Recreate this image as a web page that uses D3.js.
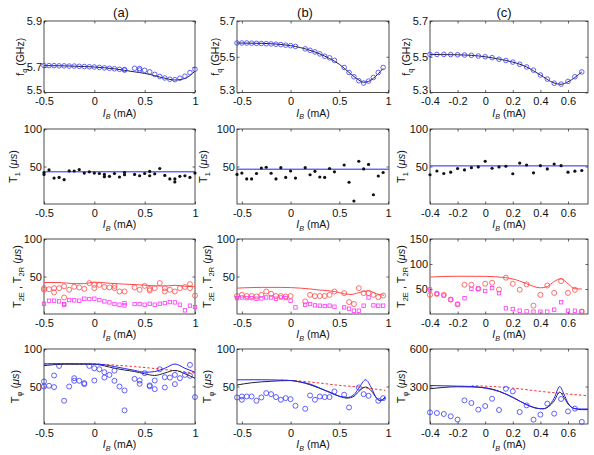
<!DOCTYPE html>
<html><head><meta charset="utf-8">
<script src="https://cdn.jsdelivr.net/npm/d3@7"></script>
<style>
body{margin:0;background:#fff}
svg{display:block}
text{font-family:"Liberation Sans",Arial,Helvetica,sans-serif;fill:#111}
</style>
</head><body>
<svg id="c" width="594" height="455"></svg>
<script>
// ---------- tick labels ----------
const xTicksAB = [-0.5, 0, 0.5, 1];
const xTicksC = [-0.4, -0.2, 0, 0.2, 0.4, 0.6];
const fqTicksA = [5.5, 5.7, 5.9];
const fqTicksBC = [5.3, 5.5, 5.7];
const tTicks = [50, 100];
const t2TicksC = [50, 100, 150];
const tphiTicksC = [300, 600];
const panelTitles = ["(a)", "(b)", "(c)"];

// ---------- row 1: qubit frequency f_q (GHz) ----------
const fqA = [[-0.5,5.706],[-0.45,5.706],[-0.4,5.706],[-0.35,5.705],[-0.3,5.705],[-0.25,5.704],[-0.2,5.704],[-0.15,5.703],[-0.1,5.702],[-0.05,5.701],[0,5.700],[0.05,5.697],[0.1,5.693],[0.15,5.690],[0.2,5.686],[0.25,5.682],[0.3,5.680],[0.3,5.676],[0.4,5.690],[0.45,5.688],[0.45,5.676],[0.5,5.674],[0.55,5.662],[0.6,5.642],[0.65,5.626],[0.7,5.614],[0.75,5.604],[0.8,5.601],[0.85,5.612],[0.9,5.628],[0.95,5.656],[1.0,5.682]];
const fqAFit = [[-0.5,5.706],[-0.3,5.705],[-0.1,5.702],[0,5.700],[0.1,5.694],[0.2,5.686],[0.3,5.674],[0.4,5.662],[0.5,5.650],[0.6,5.632],[0.7,5.612],[0.8,5.598],[0.9,5.610],[1.0,5.668]];
const fqB = [[-0.55,5.577],[-0.5,5.577],[-0.45,5.577],[-0.4,5.576],[-0.35,5.575],[-0.3,5.574],[-0.25,5.573],[-0.2,5.572],[-0.15,5.570],[-0.1,5.568],[-0.05,5.565],[0,5.562],[0.05,5.558],[0.15,5.544],[0.2,5.536],[0.25,5.527],[0.3,5.516],[0.35,5.503],[0.4,5.494],[0.45,5.480],[0.55,5.440],[0.6,5.412],[0.65,5.388],[0.7,5.366],[0.75,5.353],[0.8,5.364],[0.85,5.384],[0.9,5.412],[0.95,5.440]];
const fqBFit = [[-0.55,5.577],[-0.3,5.575],[0,5.562],[0.2,5.536],[0.4,5.490],[0.5,5.458],[0.6,5.412],[0.7,5.370],[0.75,5.357],[0.8,5.362],[0.9,5.405],[0.95,5.435]];
const fqC = [[-0.4,5.513],[-0.35,5.513],[-0.3,5.513],[-0.25,5.512],[-0.2,5.511],[-0.15,5.510],[-0.1,5.508],[-0.05,5.504],[0,5.500],[0.05,5.495],[0.1,5.486],[0.15,5.479],[0.2,5.470],[0.25,5.458],[0.3,5.443],[0.35,5.425],[0.4,5.398],[0.45,5.375],[0.5,5.352],[0.55,5.347],[0.6,5.362],[0.65,5.388],[0.7,5.415]];
const fqCFit = [[-0.4,5.513],[-0.2,5.511],[0,5.500],[0.1,5.487],[0.2,5.470],[0.3,5.443],[0.4,5.398],[0.5,5.353],[0.55,5.346],[0.6,5.360],[0.7,5.415]];

// ---------- row 2: T1 (us) ----------
const t1A = [[-0.5,42],[-0.5,39.5],[-0.45,45.5],[-0.4,34.6],[-0.35,35.5],[-0.3,32.5],[-0.25,44.1],[-0.2,44],[-0.15,45.9],[-0.1,41.2],[-0.05,42.9],[0,41.2],[0.05,40.7],[0.1,39.5],[0.1,36.5],[0.15,36.9],[0.2,40.7],[0.25,36],[0.3,42],[0.3,39],[0.4,39.5],[0.45,37.7],[0.5,40.7],[0.55,43.4],[0.55,37.7],[0.6,40.2],[0.65,47.3],[0.7,38.1],[0.75,33.4],[0.8,33.4],[0.8,29.5],[0.85,36.9],[0.9,37.7],[0.95,35.5],[1.0,41.2]];
const t1AFit = 42.9;
const t1B = [[-0.55,39.5],[-0.5,41.2],[-0.45,33.4],[-0.4,33.4],[-0.35,40.7],[-0.3,48],[-0.25,49],[-0.2,41],[-0.15,33.4],[-0.1,48.5],[-0.05,35.5],[0,44],[0.05,34.6],[0.15,48.5],[0.2,39],[0.25,43.6],[0.3,36],[0.35,35.5],[0.4,47.3],[0.45,42.9],[0.55,52],[0.6,29],[0.65,4],[0.7,57],[0.75,46.8],[0.8,52.8],[0.85,12.3],[0.9,37.3],[0.95,42]];
const t1BFit = 46.4;
const t1C = [[-0.4,39],[-0.35,44],[-0.3,40.7],[-0.25,42.5],[-0.2,47.3],[-0.15,45.5],[-0.1,48.5],[-0.05,49.4],[0,57],[0.05,47.7],[0.1,49.4],[0.15,50.3],[0.2,40.3],[0.25,54.6],[0.3,52],[0.35,41.6],[0.4,51.1],[0.45,46.8],[0.5,53.3],[0.55,51.1],[0.6,42.5],[0.65,43.8],[0.7,44.7]];
const t1CFit = 50.8;

// ---------- row 3: T2E (circles, fit line) and T2R (squares) ----------
const t2eA = [[-0.5,32.3],[-0.5,34.5],[-0.45,33],[-0.4,34.5],[-0.4,28.8],[-0.35,34.5],[-0.3,37],[-0.3,22],[-0.25,32.3],[-0.2,36.3],[-0.15,35.4],[-0.1,33.6],[-0.05,41.2],[0,38.9],[0,34.5],[0.05,38.9],[0.1,36],[0.15,35.4],[0.2,37.5],[0.2,34.5],[0.25,30],[0.3,30],[0.4,35.4],[0.45,32.3],[0.5,37.5],[0.55,31.4],[0.55,33.5],[0.6,34.5],[0.65,41.2],[0.7,30],[0.7,34.5],[0.75,32.3],[0.8,30],[0.85,34.5],[0.9,36],[0.95,39.8],[0.95,34.5],[1.0,24.6]];
const t2eAFit = [[-0.5,42],[-0.35,42],[-0.2,40.5],[-0.1,40.5],[0,42.5],[0.15,41],[0.3,39.8],[0.45,38.9],[0.6,37.5],[0.7,37.3],[0.8,38.3],[0.9,37],[1.0,36.3]];
const t2rA = [[-0.5,13.7],[-0.45,17.7],[-0.4,17.7],[-0.35,16.8],[-0.3,13.3],[-0.3,12.4],[-0.25,18.6],[-0.2,18.2],[-0.15,17.7],[-0.1,20.4],[-0.05,20],[0,20.4],[0.05,18.6],[0.1,16.8],[0.15,15.5],[0.2,13.3],[0.25,12.4],[0.3,11.5],[0.3,14.6],[0.4,13.3],[0.45,13.3],[0.5,12.4],[0.55,13.7],[0.6,12.4],[0.65,13.7],[0.7,14.6],[0.75,15.9],[0.8,15.5],[0.85,12.4],[0.9,4.9],[0.95,11.1],[1.0,9.3]];
const t2eB = [[-0.55,24],[-0.5,25.5],[-0.45,24],[-0.4,24],[-0.35,23.4],[-0.3,25.5],[-0.25,30],[-0.2,26.9],[-0.15,24],[-0.1,24],[-0.05,23.4],[0,24],[0.15,16.8],[0.2,25.5],[0.25,23.8],[0.3,24],[0.35,24],[0.4,25.5],[0.45,30],[0.55,27.8],[0.6,15.9],[0.65,13.3],[0.7,34.5],[0.75,27.8],[0.8,27.8],[0.85,25.5],[0.9,22.4],[0.95,24.6]];
const t2eBFit = [[-0.55,34.5],[-0.3,35.5],[-0.1,35.5],[0.1,34.5],[0.3,32],[0.45,30],[0.55,27],[0.62,26],[0.7,28.5],[0.8,31],[0.88,27],[0.96,25]];
const t2rB = [[-0.55,21.2],[-0.5,22],[-0.45,21.2],[-0.4,21.2],[-0.35,20.4],[-0.3,20.8],[-0.25,22],[-0.2,22],[-0.15,20.4],[-0.1,22],[-0.05,21.2],[0,17.7],[0.05,8.8],[0.15,12.4],[0.2,13.3],[0.25,11.5],[0.3,11.1],[0.35,10.6],[0.4,11.1],[0.45,9.7],[0.55,8.8],[0.6,7.1],[0.65,4.4],[0.7,4.4],[0.75,11.1],[0.8,22],[0.85,11.5],[0.9,11.1],[0.95,11.1]];
const t2eC = [[-0.4,38.3],[-0.35,40.3],[-0.3,38.3],[-0.25,28.8],[-0.2,19.4],[-0.15,58.5],[-0.1,58.5],[-0.05,50.5],[0,60.5],[0.05,62.5],[0.1,49],[0.15,72.6],[0.2,60.5],[0.25,48.5],[0.3,59.2],[0.35,16.7],[0.4,38.3],[0.45,57],[0.5,42.2],[0.55,65.8],[0.6,42.2],[0.65,48.5],[0.7,4.7]];
const t2eCFit = [[-0.4,74],[-0.2,75.5],[0,75.3],[0.15,72.6],[0.25,66],[0.3,60.5],[0.4,52.4],[0.45,55],[0.5,65],[0.55,70.7],[0.6,60.5],[0.65,50.5],[0.7,50]];
const t2rC = [[-0.4,49],[-0.35,40.3],[-0.3,37],[-0.25,28.8],[-0.2,19.4],[-0.15,31.5],[-0.1,50.5],[-0.05,50.5],[0,46],[0.05,51.8],[0.1,41.6],[0.15,11.3],[0.2,10],[0.25,6.6],[0.3,5.3],[0.35,4.7],[0.4,4.7],[0.45,4.7],[0.5,8.7],[0.55,23.5],[0.6,6.6],[0.65,6.6],[0.7,5.3]];

// ---------- row 4: T_phi (us) ----------
const tphiA = [[-0.5,56.7],[-0.5,50],[-0.45,51],[-0.4,49.2],[-0.4,64.7],[-0.35,77.4],[-0.3,31],[-0.25,50],[-0.2,61.1],[-0.2,57.6],[-0.15,57.6],[-0.1,53.2],[-0.1,54.5],[-0.05,77.4],[0,74.3],[0,58],[0.05,73],[0.1,69],[0.1,61.9],[0.15,65.5],[0.2,71.1],[0.2,57.6],[0.25,50],[0.3,44.7],[0.3,18.2],[0.4,60.2],[0.45,58],[0.45,53.6],[0.5,67.8],[0.55,51.5],[0.55,50.3],[0.6,58],[0.6,46.5],[0.65,73],[0.7,62.4],[0.7,48.7],[0.75,61.9],[0.8,65.5],[0.8,53.2],[0.85,61.1],[0.9,65.5],[0.95,78.8],[0.95,64.3],[1.0,35.9]];
const tphiABlue = [[-0.5,80],[-0.3,80.5],[0,80],[0.1,79],[0.2,76.6],[0.3,74],[0.4,71.5],[0.5,69],[0.6,70],[0.7,74.3],[0.8,80],[0.9,74.3],[1.0,69]];
const tphiABlack = [[-0.5,77.9],[-0.3,79.7],[0,79.7],[0.1,77.5],[0.2,74.3],[0.3,72],[0.4,70],[0.5,66.9],[0.6,64.7],[0.7,68],[0.8,71.5],[0.9,67],[1.0,61]];
const tphiARed = [[-0.5,80.5],[0,80],[0.2,78.5],[0.4,76.5],[0.6,74],[0.8,71],[1.0,68]];
const tphiB = [[-0.55,35.4],[-0.5,32.3],[-0.5,36.7],[-0.45,36.7],[-0.4,36.7],[-0.35,31],[-0.3,35.4],[-0.25,41.2],[-0.2,39.8],[-0.15,35.9],[-0.1,32.3],[-0.05,34.5],[0,33.1],[0.05,24.3],[0.15,20.3],[0.2,38.1],[0.25,32.3],[0.3,36.7],[0.35,35.9],[0.4,35.9],[0.45,43.4],[0.55,39],[0.6,22.1],[0.7,48.7],[0.75,39.8],[0.8,37.6],[0.9,31],[0.95,34.5]];
const tphiBBlue = [[-0.55,58.9],[-0.3,59],[-0.1,58.5],[0,58],[0.1,56],[0.2,53.2],[0.3,48],[0.4,42],[0.5,37],[0.58,35.4],[0.65,39],[0.7,47.8],[0.77,58.9],[0.83,48],[0.88,35],[0.92,31.5],[0.97,34.7]];
const tphiBBlack = [[-0.55,52],[-0.4,55],[-0.2,57],[0,58],[0.1,56],[0.2,52.3],[0.3,47.5],[0.4,42.6],[0.5,37],[0.58,34.5],[0.65,37],[0.7,43.4],[0.77,49.3],[0.83,44],[0.88,35],[0.92,31],[0.97,36]];
const tphiBRed = [[-0.1,58.5],[0,58],[0.3,54.6],[0.5,51.5],[0.7,49.3],[0.97,44.7]];
const tphiC = [[-0.4,93],[-0.35,88],[-0.3,80],[-0.25,61.5],[-0.2,35],[-0.15,189],[-0.1,168],[-0.05,115],[0,144],[0.05,202],[0.1,112],[0.15,282],[0.2,261],[0.25,96],[0.3,149],[0.35,35],[0.4,75],[0.45,163],[0.5,83],[0.55,200],[0.6,101],[0.65,123],[0.7,17]];
const tphiCBlue = [[-0.4,308],[-0.2,303],[-0.1,300],[0,287],[0.1,261],[0.2,213],[0.3,155],[0.38,125],[0.42,122],[0.46,143],[0.5,207],[0.54,300],[0.57,240],[0.6,168],[0.65,123],[0.7,120],[0.745,120]];
const tphiCBlack = [[-0.4,282],[-0.2,298],[-0.1,297],[0,290],[0.1,262],[0.2,213],[0.3,155],[0.38,125],[0.42,122],[0.46,140],[0.5,185],[0.54,255],[0.57,215],[0.6,160],[0.65,123],[0.7,115],[0.745,115]];
const tphiCRed = [[-0.1,305],[0,303],[0.2,287],[0.4,261],[0.6,240],[0.745,226]];

// ---------- layout ----------
const svg = d3.select("#c");
const colBoxes = [
  {x0:44, x1:195, dom:[-0.5,1], ticks:xTicksAB},
  {x0:237, x1:389, dom:[-0.55,1.01], ticks:xTicksAB},
  {x0:430, x1:588, dom:[-0.4,0.745], ticks:xTicksC}
];
const rowBoxes = [{y0:21,y1:92.5},{y0:129,y1:204},{y0:239,y1:314},{y0:349,y1:424}];
const fmt = v => String(v);
const FONT = '"Liberation Sans",Arial,sans-serif';

function richText(sel, parts, size) {
  const subSize = size * 0.68;
  let shifted = 0;
  parts.forEach(p => {
    const [t, st] = p;
    const sub = st && st.includes("s");
    const it = st && st.includes("i");
    const ts = sel.append("tspan").text(t)
      .attr("font-size", sub ? subSize : size)
      .attr("font-style", it ? "italic" : "normal");
    const target = sub ? size * 0.25 : 0;
    if (target !== shifted) { ts.attr("dy", target - shifted); shifted = target; }
  });
}

const xLabelParts = [["I","i"],["B","si"],[" (mA)"]];

function styleAxis(a, withText) {
  a.select(".domain").remove();
  a.selectAll("line").attr("stroke", "#222").attr("stroke-width", 0.7);
  if (withText) a.selectAll("text").attr("font-size", 11).style("font-family", FONT).attr("fill", "#111");
}

function panel(ci, ri, yScaleDomain, yScaleRange, yticks, ylabel, ylabelBase, ylabelSize) {
  const c = colBoxes[ci], r = rowBoxes[ri];
  const x = d3.scaleLinear().domain(c.dom).range([c.x0, c.x1]);
  const y = d3.scaleLinear().domain(yScaleDomain).range(yScaleRange || [r.y1, r.y0]);
  const g = svg.append("g");
  const tk = 2.5;
  g.append("g").attr("transform", `translate(0,${r.y1})`)
    .call(d3.axisBottom(x).tickValues(c.ticks).tickSize(-tk).tickPadding(5).tickFormat(fmt))
    .call(a => styleAxis(a, true));
  g.append("g").attr("transform", `translate(0,${r.y0})`)
    .call(d3.axisTop(x).tickValues(c.ticks).tickSize(-tk).tickFormat(""))
    .call(a => styleAxis(a, false));
  const ya = g.append("g").attr("transform", `translate(${c.x0},0)`)
    .call(d3.axisLeft(y).tickValues(yticks).tickSize(-tk).tickPadding(2).tickFormat(fmt))
    .call(a => styleAxis(a, true));
  // nudge the lowest y tick label up a little so it clears the x tick labels
  ya.selectAll(".tick").filter(d => Math.abs(y(d) - r.y1) < 1).select("text").attr("dy", "0.1em");
  g.append("g").attr("transform", `translate(${c.x1},0)`)
    .call(d3.axisRight(y).tickValues(yticks).tickSize(-tk).tickFormat(""))
    .call(a => styleAxis(a, false));
  g.append("rect").attr("x", c.x0).attr("y", r.y0).attr("width", c.x1 - c.x0).attr("height", r.y1 - r.y0)
    .attr("fill", "none").attr("stroke", "#222").attr("stroke-width", 0.8);
  const xl = g.append("text").attr("x", (c.x0 + c.x1) / 2).attr("y", r.y1 + 24).attr("text-anchor", "middle");
  richText(xl, xLabelParts, 10.5);
  // ylabelBase = screen x of the text baseline
  const yl = g.append("text").attr("transform", `translate(${ylabelBase},${(r.y0 + r.y1) / 2}) rotate(-90)`)
    .attr("text-anchor", "middle");
  richText(yl, ylabel, ylabelSize || 10.5);
  const plot = g.append("g");
  return {x, y, g: plot, r, c};
}

function lineOf(p, data, color, dash, w) {
  const ln = d3.line().x(d => p.x(d[0])).y(d => p.y(d[1])).curve(d3.curveMonotoneX);
  p.g.append("path").datum(data).attr("d", ln).attr("fill", "none").attr("stroke", color)
    .attr("stroke-width", w || 1).attr("stroke-dasharray", dash || null);
}
function circles(p, data, color, r) {
  p.g.selectAll(null).data(data).join("circle")
    .attr("cx", d => p.x(d[0])).attr("cy", d => p.y(d[1])).attr("r", r || 2.3)
    .attr("fill", "none").attr("stroke", color).attr("stroke-width", 0.8);
}
function dots(p, data, color) {
  p.g.selectAll(null).data(data).join("circle")
    .attr("cx", d => p.x(d[0])).attr("cy", d => p.y(d[1])).attr("r", 1.6).attr("fill", color);
}
function squares(p, data, color) {
  const s = 3.4;
  p.g.selectAll(null).data(data).join("rect")
    .attr("x", d => p.x(d[0]) - s / 2).attr("y", d => p.y(d[1]) - s / 2).attr("width", s).attr("height", s)
    .attr("fill", "none").attr("stroke", color).attr("stroke-width", 0.8);
}
function hline(p, v, color) {
  p.g.append("line").attr("x1", p.c.x0).attr("x2", p.c.x1).attr("y1", p.y(v)).attr("y2", p.y(v))
    .attr("stroke", color).attr("stroke-width", 1);
}

const BLUE = "#3a3aff", BLUEL = "#2222ff", BLACK = "#222", RED = "#ff4a4a", MAG = "#ff33ff";
const fqLabel = [["f"],["q","s"],[" (GHz)"]];
const t1Label = [["T"],["1","s"],[" ("],["\u03bcs","i"],[")"]];
const t2Label = [["T"],["2E","s"],[" , T"],["2R","s"],[" ("],["\u03bcs","i"],[")"]];
const tphiLabel = [["T"],["\u03c6","s"],[" ("],["\u03bcs","i"],[")"]];

[[121, panelTitles[0]], [305, panelTitles[1]], [504, panelTitles[2]]].forEach(([xx, t]) =>
  svg.append("text").attr("x", xx).attr("y", 17).attr("text-anchor", "middle").attr("font-size", 13).text(t));

let p;
// row 1
p = panel(0, 0, [5.5, 5.7, 5.9], [92.5, 67, 21], fqTicksA, fqLabel, 24);
lineOf(p, fqAFit, BLACK); circles(p, fqA, BLUE);
p = panel(1, 0, [5.3, 5.7], null, fqTicksBC, fqLabel, 219);
lineOf(p, fqBFit, BLACK); circles(p, fqB, BLUE);
p = panel(2, 0, [5.3, 5.7], null, fqTicksBC, fqLabel, 410);
lineOf(p, fqCFit, BLACK); circles(p, fqC, BLUE);

// row 2
p = panel(0, 1, [0, 100], null, tTicks, t1Label, 17, 11);
hline(p, t1AFit, BLUEL); dots(p, t1A, "#111");
p = panel(1, 1, [0, 100], null, tTicks, t1Label, 207, 11);
hline(p, t1BFit, BLUEL); dots(p, t1B, "#111");
p = panel(2, 1, [0, 100], null, tTicks, t1Label, 405, 11);
hline(p, t1CFit, BLUEL); dots(p, t1C, "#111");

// row 3
p = panel(0, 2, [0, 100], null, tTicks, t2Label, 21, 11);
lineOf(p, t2eAFit, RED); circles(p, t2eA, RED, 2.5); squares(p, t2rA, MAG);
p = panel(1, 2, [0, 100], null, tTicks, t2Label, 211, 11);
lineOf(p, t2eBFit, RED); circles(p, t2eB, RED, 2.5); squares(p, t2rB, MAG);
p = panel(2, 2, [0, 150], null, t2TicksC, t2Label, 405, 11);
lineOf(p, t2eCFit, RED); circles(p, t2eC, RED, 2.5); squares(p, t2rC, MAG);

// row 4
p = panel(0, 3, [0, 100], null, tTicks, tphiLabel, 19, 11);
lineOf(p, tphiARed, "#ff3030", "2.5,2"); lineOf(p, tphiABlack, BLACK); lineOf(p, tphiABlue, BLUEL); circles(p, tphiA, BLUE, 2.5);
p = panel(1, 3, [0, 100], null, tTicks, tphiLabel, 211, 11);
lineOf(p, tphiBRed, "#ff3030", "2.5,2"); lineOf(p, tphiBBlack, BLACK); lineOf(p, tphiBBlue, BLUEL); circles(p, tphiB, BLUE, 2.5);
p = panel(2, 3, [0, 600], null, tphiTicksC, tphiLabel, 405, 11);
lineOf(p, tphiCRed, "#ff3030", "2.5,2"); lineOf(p, tphiCBlack, BLACK); lineOf(p, tphiCBlue, BLUEL); circles(p, tphiC, BLUE, 2.5);
</script>
</body></html>
